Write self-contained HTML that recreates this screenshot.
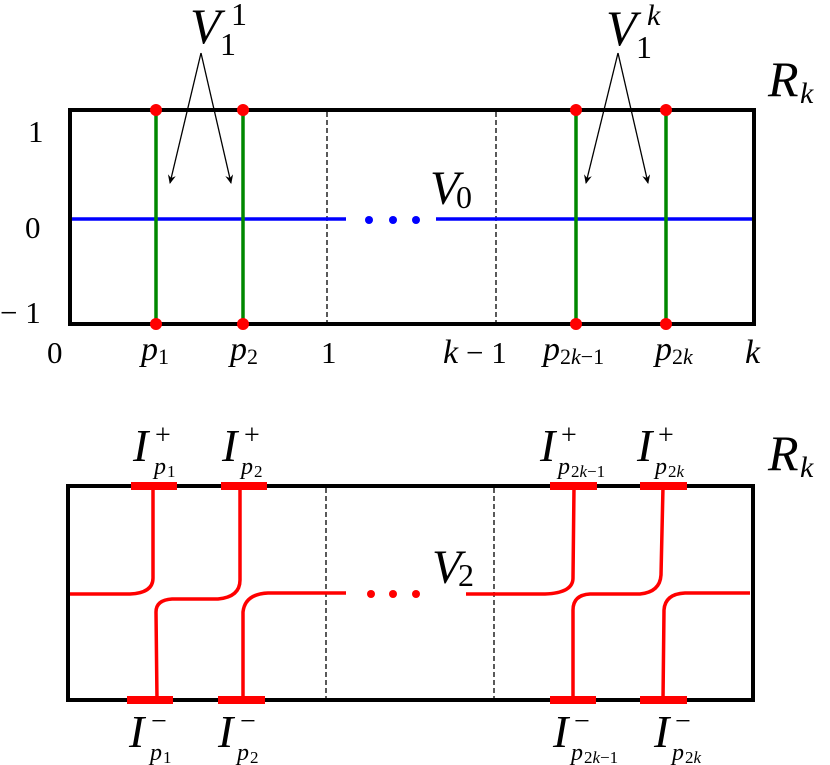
<!DOCTYPE html>
<html><head><meta charset="utf-8"><style>
html,body{margin:0;padding:0;background:#fff;}
svg{display:block}
svg text{font-family:"Liberation Serif","DejaVu Serif","Times New Roman",serif;fill:#000}
.i{font-style:italic}
</style></head><body>
<svg width="830" height="765" viewBox="0 0 830 765" xmlns="http://www.w3.org/2000/svg" font-family="Liberation Serif, DejaVu Serif, serif">
<defs><marker id="ar" markerWidth="10" markerHeight="10" refX="8" refY="4" orient="auto" markerUnits="userSpaceOnUse"><path d="M0,0 L9,4 L0,8 L3,4 Z" fill="#000"/></marker></defs>
<!-- TOP -->
<line x1="327" y1="112" x2="327" y2="322" stroke="#000" stroke-width="1.3" stroke-dasharray="5,3"/>
<line x1="496" y1="112" x2="496" y2="322" stroke="#000" stroke-width="1.3" stroke-dasharray="5,3"/>
<line x1="72" y1="219" x2="346" y2="219" stroke="#00f" stroke-width="3.5"/>
<line x1="436" y1="219" x2="754" y2="219" stroke="#00f" stroke-width="3.5"/>
<circle cx="369" cy="220" r="4" fill="#00f"/><circle cx="393" cy="220" r="4" fill="#00f"/><circle cx="416" cy="220" r="4" fill="#00f"/>
<g stroke="#080" stroke-width="3.5">
<line x1="156" y1="110" x2="156" y2="324"/><line x1="243" y1="110" x2="243" y2="324"/>
<line x1="576" y1="110" x2="576" y2="324"/><line x1="666" y1="110" x2="666" y2="324"/>
</g>
<rect x="70" y="110" width="684" height="214" fill="none" stroke="#000" stroke-width="4"/>
<g fill="#f00">
<circle cx="156" cy="110" r="6"/><circle cx="243" cy="110" r="6"/><circle cx="576" cy="110" r="6"/><circle cx="666" cy="110" r="6"/>
<circle cx="156" cy="324" r="6"/><circle cx="243" cy="324" r="6"/><circle cx="576" cy="324" r="6"/><circle cx="666" cy="324" r="6"/>
</g>
<g stroke="#000" stroke-width="1.3" marker-end="url(#ar)">
<line x1="201" y1="53" x2="170" y2="183"/><line x1="201" y1="53" x2="231" y2="183"/>
<line x1="618" y1="53" x2="586" y2="183"/><line x1="618" y1="53" x2="648" y2="183"/>
</g>
<text x="190" y="43" font-size="50" class="i">V</text><text x="220" y="55" font-size="32">1</text><text x="231" y="25" font-size="32">1</text>
<text x="606" y="45" font-size="50" class="i">V</text><text x="636" y="58" font-size="32">1</text><text x="647" y="25" font-size="30" class="i">k</text>
<text x="768" y="96" font-size="50" class="i">R</text><text x="800" y="103" font-size="30" class="i">k</text>
<text x="430" y="204" font-size="48" class="i">V</text><text x="456" y="208" font-size="32">0</text>
<text x="28" y="142" font-size="31">1</text>
<text x="25" y="238" font-size="31">0</text>
<text x="0" y="323" font-size="31">− 1</text>
<text x="47" y="363" font-size="31">0</text>
<text x="141" y="360" font-size="34" class="i">p</text><text x="158" y="364" font-size="22">1</text>
<text x="230" y="360" font-size="34" class="i">p</text><text x="247" y="364" font-size="22">2</text>
<text x="321" y="363" font-size="31">1</text>
<text x="443" y="363" font-size="34" class="i">k</text><text x="466" y="363" font-size="31">− 1</text>
<text x="543" y="360" font-size="34" class="i">p</text><text x="560" y="364" font-size="22">2<tspan class="i">k</tspan>−1</text>
<text x="655" y="360" font-size="34" class="i">p</text><text x="672" y="364" font-size="22">2<tspan class="i">k</tspan></text>
<text x="745" y="363" font-size="34" class="i">k</text>
<!-- BOTTOM -->
<line x1="326" y1="488" x2="326" y2="698" stroke="#000" stroke-width="1.3" stroke-dasharray="5,3"/>
<line x1="494" y1="488" x2="494" y2="698" stroke="#000" stroke-width="1.3" stroke-dasharray="5,3"/>
<rect x="68" y="486" width="685" height="214" fill="none" stroke="#000" stroke-width="4"/>
<g stroke="#f00" stroke-width="3.5" fill="none">
<path d="M70,594 L130,594 Q153,593 153,578 L153,487"/>
<path d="M157,700 L156,612 Q156,600 172,599 L218,599 Q240,597 240,580 L240,487"/>
<path d="M243,700 L243,612 Q245,594 268,593 L346,593"/>
<path d="M466,594 L545,594 Q573,593 573,578 L574,487"/>
<path d="M573,700 L573,610 Q573,595 590,594 L640,594 Q660,592 661,575 L663,487"/>
<path d="M663,700 L664,610 Q665,594 685,593 L750,593"/>
</g>
<g fill="#f00">
<circle cx="371" cy="594" r="4"/><circle cx="393" cy="594" r="4"/><circle cx="416" cy="594" r="4"/>
<rect x="131" y="482" width="46" height="8"/><rect x="221" y="482" width="46" height="8"/><rect x="550" y="482" width="47" height="8"/><rect x="640" y="482" width="47" height="8"/>
<rect x="127" y="696" width="46" height="8"/><rect x="218" y="696" width="47" height="8"/><rect x="550" y="696" width="46" height="8"/><rect x="640" y="696" width="47" height="8"/>
</g>
<text x="432" y="583" font-size="48" class="i">V</text><text x="458" y="586" font-size="32">2</text>
<text x="768" y="470" font-size="50" class="i">R</text><text x="800" y="477" font-size="30" class="i">k</text>
<g font-size="46">
<text x="133" y="461" class="i">I</text><text x="155" y="444" font-size="28">+</text><text x="154" y="474" font-size="24" class="i">p</text><text x="167" y="477" font-size="17">1</text>
<text x="222" y="461" class="i">I</text><text x="244" y="444" font-size="28">+</text><text x="241" y="474" font-size="24" class="i">p</text><text x="254" y="477" font-size="17">2</text>
<text x="540" y="461" class="i">I</text><text x="561" y="444" font-size="28">+</text><text x="558" y="474" font-size="24" class="i">p</text><text x="571" y="477" font-size="17">2<tspan class="i">k</tspan>−1</text>
<text x="637" y="461" class="i">I</text><text x="658" y="444" font-size="28">+</text><text x="655" y="474" font-size="24" class="i">p</text><text x="668" y="477" font-size="17">2<tspan class="i">k</tspan></text>
<text x="129" y="747" class="i">I</text><text x="151" y="730" font-size="28">−</text><text x="150" y="760" font-size="24" class="i">p</text><text x="163" y="763" font-size="17">1</text>
<text x="218" y="747" class="i">I</text><text x="240" y="730" font-size="28">−</text><text x="237" y="760" font-size="24" class="i">p</text><text x="250" y="763" font-size="17">2</text>
<text x="553" y="747" class="i">I</text><text x="574" y="730" font-size="28">−</text><text x="571" y="760" font-size="24" class="i">p</text><text x="584" y="763" font-size="17">2<tspan class="i">k</tspan>−1</text>
<text x="654" y="747" class="i">I</text><text x="675" y="730" font-size="28">−</text><text x="672" y="760" font-size="24" class="i">p</text><text x="685" y="763" font-size="17">2<tspan class="i">k</tspan></text>
</g>
</svg>
</body></html>
